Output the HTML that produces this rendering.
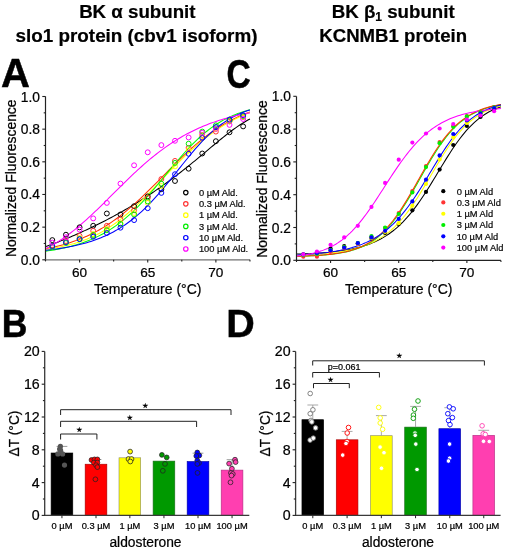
<!DOCTYPE html>
<html><head><meta charset="utf-8"><title>BK aldosterone figure</title>
<style>
html,body{margin:0;padding:0;background:#fff;}
body{width:506px;height:550px;overflow:hidden;}
svg{display:block;}
text{stroke:#000;stroke-width:0.22px;}
text.nb{stroke-width:0.5px;}
text.st{stroke-width:0.25px;}
</style></head><body>
<svg width="506" height="550" viewBox="0 0 506 550" font-family="'Liberation Sans', Arial, sans-serif" fill="#000">
<rect width="506" height="550" fill="#fff"/>
<text x="137.3" y="18.1" font-size="18.7" font-weight="bold" text-anchor="middle">BK α subunit</text>
<text x="136.5" y="42" font-size="18.85" font-weight="bold" text-anchor="middle">slo1 protein (cbv1 isoform)</text>
<text x="393.2" y="18.1" font-size="18.7" font-weight="bold" text-anchor="middle">BK β<tspan font-size="12" dy="3">1</tspan><tspan dy="-3"> subunit</tspan></text>
<text x="393.2" y="41.6" font-size="18.6" font-weight="bold" text-anchor="middle">KCNMB1 protein</text>
<text x="0.9" y="87.3" font-size="40" font-weight="bold" class="nb">A</text>
<text transform="translate(226.4,87.6) scale(0.85,1.04)" font-size="39.5" font-weight="bold" class="nb">C</text>
<text transform="translate(1.8,337.2) scale(0.9,1)" font-size="39.5" font-weight="bold" class="nb">B</text>
<text x="226.2" y="336.9" font-size="39.5" font-weight="bold" class="nb">D</text>
<path d="M45.50 96.4 V260.60" fill="none" stroke="#222" stroke-width="1.2"/>
<path d="M44.90 259.80 H249.95" fill="none" stroke="#707070" stroke-width="1.3"/>
<line x1="42.30" y1="259.80" x2="45.50" y2="259.80" stroke="#222" stroke-width="1.1"/>
<text x="39.90" y="264.80" font-size="13.8" text-anchor="end">0.0</text>
<line x1="43.70" y1="243.47" x2="45.50" y2="243.47" stroke="#222" stroke-width="1.1"/>
<line x1="42.30" y1="227.14" x2="45.50" y2="227.14" stroke="#222" stroke-width="1.1"/>
<text x="39.90" y="232.14" font-size="13.8" text-anchor="end">0.2</text>
<line x1="43.70" y1="210.81" x2="45.50" y2="210.81" stroke="#222" stroke-width="1.1"/>
<line x1="42.30" y1="194.48" x2="45.50" y2="194.48" stroke="#222" stroke-width="1.1"/>
<text x="39.90" y="199.48" font-size="13.8" text-anchor="end">0.4</text>
<line x1="43.70" y1="178.15" x2="45.50" y2="178.15" stroke="#222" stroke-width="1.1"/>
<line x1="42.30" y1="161.82" x2="45.50" y2="161.82" stroke="#222" stroke-width="1.1"/>
<text x="39.90" y="166.82" font-size="13.8" text-anchor="end">0.6</text>
<line x1="43.70" y1="145.49" x2="45.50" y2="145.49" stroke="#222" stroke-width="1.1"/>
<line x1="42.30" y1="129.16" x2="45.50" y2="129.16" stroke="#222" stroke-width="1.1"/>
<text x="39.90" y="134.16" font-size="13.8" text-anchor="end">0.8</text>
<line x1="43.70" y1="112.83" x2="45.50" y2="112.83" stroke="#222" stroke-width="1.1"/>
<line x1="42.30" y1="96.50" x2="45.50" y2="96.50" stroke="#222" stroke-width="1.1"/>
<text x="39.90" y="101.50" font-size="13.8" text-anchor="end">1.0</text>
<line x1="45.50" y1="259.80" x2="45.50" y2="261.40" stroke="#222" stroke-width="1.1"/>
<line x1="79.58" y1="259.80" x2="79.58" y2="262.40" stroke="#222" stroke-width="1.1"/>
<text x="79.58" y="277.2" font-size="13.6" text-anchor="middle">60</text>
<line x1="113.65" y1="259.80" x2="113.65" y2="261.40" stroke="#222" stroke-width="1.1"/>
<line x1="147.73" y1="259.80" x2="147.73" y2="262.40" stroke="#222" stroke-width="1.1"/>
<text x="147.73" y="277.2" font-size="13.6" text-anchor="middle">65</text>
<line x1="181.80" y1="259.80" x2="181.80" y2="261.40" stroke="#222" stroke-width="1.1"/>
<line x1="215.88" y1="259.80" x2="215.88" y2="262.40" stroke="#222" stroke-width="1.1"/>
<text x="215.88" y="277.2" font-size="13.6" text-anchor="middle">70</text>
<line x1="249.95" y1="259.80" x2="249.95" y2="261.40" stroke="#222" stroke-width="1.1"/>
<text x="147.73" y="293.8" font-size="14" text-anchor="middle">Temperature (°C)</text>
<text transform="translate(16.30,178.2) rotate(-90)" font-size="13.9" text-anchor="middle">Normalized Fluorescence</text>
<polyline points="46.00,246.59 48.04,245.84 50.08,245.07 52.12,244.30 54.16,243.52 56.20,242.73 58.24,241.93 60.28,241.12 62.32,240.30 64.36,239.47 66.40,238.63 68.43,237.78 70.47,236.92 72.51,236.05 74.55,235.18 76.59,234.29 78.63,233.39 80.67,232.48 82.71,231.56 84.75,230.63 86.79,229.68 88.83,228.73 90.87,227.76 92.91,226.79 94.95,225.80 96.99,224.80 99.03,223.79 101.07,222.77 103.11,221.73 105.15,220.69 107.19,219.63 109.22,218.56 111.26,217.47 113.30,216.38 115.34,215.27 117.38,214.14 119.42,213.01 121.46,211.86 123.50,210.70 125.54,209.52 127.58,208.33 129.62,207.13 131.66,205.91 133.70,204.68 135.74,203.44 137.78,202.18 139.82,200.90 141.86,199.61 143.90,198.31 145.94,196.99 147.97,195.66 150.01,194.31 152.05,192.94 154.09,191.56 156.13,190.17 158.17,188.76 160.21,187.33 162.25,185.89 164.29,184.43 166.33,182.96 168.37,181.47 170.41,179.97 172.45,178.45 174.49,176.92 176.53,175.37 178.57,173.80 180.61,172.22 182.65,170.63 184.69,169.02 186.73,167.40 188.77,165.77 190.80,164.12 192.84,162.46 194.88,160.79 196.92,159.11 198.96,157.43 201.00,155.73 203.04,154.03 205.08,152.32 207.12,150.61 209.16,148.90 211.20,147.19 213.24,145.49 215.28,143.79 217.32,142.10 219.36,140.42 221.40,138.75 223.44,137.10 225.48,135.48 227.52,133.88 229.56,132.31 231.59,130.77 233.63,129.27 235.67,127.81 237.71,126.39 239.75,125.02 241.79,123.70 243.83,122.43 245.87,121.22 247.91,120.06 249.95,118.96" fill="none" stroke="#000000" stroke-width="1.05"/>
<polyline points="46.00,248.75 48.04,248.35 50.08,247.93 52.12,247.49 54.16,247.03 56.20,246.55 58.24,246.04 60.28,245.51 62.32,244.96 64.36,244.39 66.40,243.79 68.43,243.16 70.47,242.50 72.51,241.82 74.55,241.11 76.59,240.37 78.63,239.59 80.67,238.79 82.71,237.95 84.75,237.08 86.79,236.17 88.83,235.23 90.87,234.25 92.91,233.24 94.95,232.19 96.99,231.10 99.03,229.97 101.07,228.80 103.11,227.59 105.15,226.34 107.19,225.05 109.22,223.72 111.26,222.35 113.30,220.94 115.34,219.49 117.38,217.99 119.42,216.46 121.46,214.89 123.50,213.27 125.54,211.62 127.58,209.93 129.62,208.20 131.66,206.44 133.70,204.64 135.74,202.81 137.78,200.95 139.82,199.06 141.86,197.14 143.90,195.20 145.94,193.23 147.97,191.24 150.01,189.23 152.05,187.21 154.09,185.17 156.13,183.12 158.17,181.06 160.21,178.99 162.25,176.92 164.29,174.85 166.33,172.78 168.37,170.71 170.41,168.65 172.45,166.61 174.49,164.57 176.53,162.55 178.57,160.55 180.61,158.57 182.65,156.61 184.69,154.67 186.73,152.77 188.77,150.89 190.80,149.04 192.84,147.22 194.88,145.44 196.92,143.69 198.96,141.98 201.00,140.30 203.04,138.67 205.08,137.07 207.12,135.51 209.16,134.00 211.20,132.52 213.24,131.09 215.28,129.69 217.32,128.34 219.36,127.03 221.40,125.76 223.44,124.53 225.48,123.34 227.52,122.19 229.56,121.08 231.59,120.01 233.63,118.97 235.67,117.98 237.71,117.02 239.75,116.10 241.79,115.21 243.83,114.35 245.87,113.53 247.91,112.75 249.95,111.99" fill="none" stroke="#ff3300" stroke-width="1.05"/>
<polyline points="46.00,249.21 48.04,248.94 50.08,248.65 52.12,248.35 54.16,248.03 56.20,247.68 58.24,247.32 60.28,246.93 62.32,246.52 64.36,246.08 66.40,245.61 68.43,245.12 70.47,244.59 72.51,244.04 74.55,243.45 76.59,242.84 78.63,242.18 80.67,241.49 82.71,240.77 84.75,240.00 86.79,239.20 88.83,238.35 90.87,237.46 92.91,236.53 94.95,235.55 96.99,234.53 99.03,233.47 101.07,232.35 103.11,231.19 105.15,229.98 107.19,228.72 109.22,227.42 111.26,226.06 113.30,224.66 115.34,223.20 117.38,221.70 119.42,220.15 121.46,218.56 123.50,216.91 125.54,215.23 127.58,213.49 129.62,211.72 131.66,209.90 133.70,208.05 135.74,206.16 137.78,204.23 139.82,202.27 141.86,200.28 143.90,198.26 145.94,196.21 147.97,194.15 150.01,192.06 152.05,189.96 154.09,187.84 156.13,185.71 158.17,183.58 160.21,181.44 162.25,179.29 164.29,177.15 166.33,175.01 168.37,172.88 170.41,170.76 172.45,168.65 174.49,166.56 176.53,164.49 178.57,162.43 180.61,160.40 182.65,158.39 184.69,156.41 186.73,154.46 188.77,152.54 190.80,150.65 192.84,148.80 194.88,146.98 196.92,145.19 198.96,143.45 201.00,141.74 203.04,140.07 205.08,138.44 207.12,136.85 209.16,135.30 211.20,133.79 213.24,132.32 215.28,130.90 217.32,129.51 219.36,128.16 221.40,126.86 223.44,125.59 225.48,124.37 227.52,123.18 229.56,122.03 231.59,120.92 233.63,119.84 235.67,118.81 237.71,117.81 239.75,116.84 241.79,115.91 243.83,115.01 245.87,114.15 247.91,113.32 249.95,112.51" fill="none" stroke="#ffff00" stroke-width="1.05"/>
<polyline points="46.00,251.13 48.04,250.84 50.08,250.53 52.12,250.21 54.16,249.87 56.20,249.51 58.24,249.13 60.28,248.74 62.32,248.32 64.36,247.88 66.40,247.42 68.43,246.93 70.47,246.42 72.51,245.88 74.55,245.31 76.59,244.72 78.63,244.09 80.67,243.44 82.71,242.75 84.75,242.02 86.79,241.26 88.83,240.47 90.87,239.63 92.91,238.76 94.95,237.84 96.99,236.88 99.03,235.88 101.07,234.83 103.11,233.73 105.15,232.58 107.19,231.38 109.22,230.14 111.26,228.83 113.30,227.48 115.34,226.07 117.38,224.60 119.42,223.08 121.46,221.50 123.50,219.86 125.54,218.17 127.58,216.42 129.62,214.60 131.66,212.74 133.70,210.81 135.74,208.83 137.78,206.80 139.82,204.71 141.86,202.57 143.90,200.39 145.94,198.15 147.97,195.88 150.01,193.57 152.05,191.22 154.09,188.84 156.13,186.43 158.17,183.99 160.21,181.54 162.25,179.08 164.29,176.60 166.33,174.13 168.37,171.65 170.41,169.18 172.45,166.73 174.49,164.29 176.53,161.87 178.57,159.48 180.61,157.12 182.65,154.80 184.69,152.52 186.73,150.29 188.77,148.10 190.80,145.97 192.84,143.89 194.88,141.87 196.92,139.91 198.96,138.00 201.00,136.16 203.04,134.39 205.08,132.68 207.12,131.03 209.16,129.45 211.20,127.93 213.24,126.48 215.28,125.09 217.32,123.76 219.36,122.50 221.40,121.29 223.44,120.15 225.48,119.06 227.52,118.02 229.56,117.04 231.59,116.11 233.63,115.23 235.67,114.40 237.71,113.61 239.75,112.87 241.79,112.17 243.83,111.51 245.87,110.88 247.91,110.30 249.95,109.75" fill="none" stroke="#00ff00" stroke-width="1.05"/>
<polyline points="46.00,250.22 48.04,249.99 50.08,249.75 52.12,249.50 54.16,249.24 56.20,248.96 58.24,248.67 60.28,248.37 62.32,248.04 64.36,247.71 66.40,247.35 68.43,246.98 70.47,246.58 72.51,246.17 74.55,245.74 76.59,245.28 78.63,244.80 80.67,244.30 82.71,243.77 84.75,243.22 86.79,242.63 88.83,242.02 90.87,241.38 92.91,240.71 94.95,240.00 96.99,239.26 99.03,238.49 101.07,237.67 103.11,236.82 105.15,235.93 107.19,235.00 109.22,234.02 111.26,233.00 113.30,231.93 115.34,230.81 117.38,229.65 119.42,228.43 121.46,227.16 123.50,225.84 125.54,224.46 127.58,223.02 129.62,221.53 131.66,219.97 133.70,218.36 135.74,216.69 137.78,214.96 139.82,213.16 141.86,211.31 143.90,209.39 145.94,207.41 147.97,205.38 150.01,203.28 152.05,201.13 154.09,198.93 156.13,196.67 158.17,194.36 160.21,192.00 162.25,189.61 164.29,187.17 166.33,184.69 168.37,182.19 170.41,179.66 172.45,177.11 174.49,174.55 176.53,171.98 178.57,169.41 180.61,166.83 182.65,164.27 184.69,161.73 186.73,159.21 188.77,156.71 190.80,154.25 192.84,151.83 194.88,149.45 196.92,147.13 198.96,144.85 201.00,142.64 203.04,140.49 205.08,138.40 207.12,136.38 209.16,134.43 211.20,132.55 213.24,130.75 215.28,129.02 217.32,127.36 219.36,125.77 221.40,124.26 223.44,122.82 225.48,121.45 227.52,120.15 229.56,118.92 231.59,117.76 233.63,116.66 235.67,115.62 237.71,114.64 239.75,113.72 241.79,112.85 243.83,112.04 245.87,111.28 247.91,110.56 249.95,109.89" fill="none" stroke="#0000ff" stroke-width="1.05"/>
<polyline points="46.00,248.59 48.04,247.54 50.08,246.44 52.12,245.30 54.16,244.11 56.20,242.88 58.24,241.61 60.28,240.29 62.32,238.92 64.36,237.51 66.40,236.06 68.43,234.56 70.47,233.02 72.51,231.44 74.55,229.82 76.59,228.16 78.63,226.46 80.67,224.73 82.71,222.96 84.75,221.16 86.79,219.33 88.83,217.46 90.87,215.57 92.91,213.66 94.95,211.72 96.99,209.76 99.03,207.79 101.07,205.79 103.11,203.79 105.15,201.77 107.19,199.75 109.22,197.71 111.26,195.68 113.30,193.64 115.34,191.61 117.38,189.58 119.42,187.55 121.46,185.53 123.50,183.52 125.54,181.53 127.58,179.55 129.62,177.58 131.66,175.64 133.70,173.71 135.74,171.81 137.78,169.93 139.82,168.07 141.86,166.24 143.90,164.44 145.94,162.66 147.97,160.92 150.01,159.20 152.05,157.52 154.09,155.87 156.13,154.25 158.17,152.66 160.21,151.11 162.25,149.59 164.29,148.11 166.33,146.66 168.37,145.24 170.41,143.86 172.45,142.52 174.49,141.21 176.53,139.93 178.57,138.69 180.61,137.48 182.65,136.30 184.69,135.16 186.73,134.05 188.77,132.97 190.80,131.93 192.84,130.91 194.88,129.93 196.92,128.98 198.96,128.05 201.00,127.16 203.04,126.30 205.08,125.46 207.12,124.65 209.16,123.86 211.20,123.11 213.24,122.37 215.28,121.67 217.32,120.98 219.36,120.32 221.40,119.69 223.44,119.07 225.48,118.48 227.52,117.91 229.56,117.36 231.59,116.82 233.63,116.31 235.67,115.82 237.71,115.34 239.75,114.88 241.79,114.44 243.83,114.01 245.87,113.60 247.91,113.21 249.95,112.83" fill="none" stroke="#ff00ff" stroke-width="1.05"/>
<circle cx="185.8" cy="192.60" r="2.2" fill="none" stroke="#000000" stroke-width="1.2"/>
<text x="198.9" y="195.90" font-size="9.3" fill="#111">0 µM Ald.</text>
<circle cx="185.8" cy="203.87" r="2.2" fill="none" stroke="#ff3333" stroke-width="1.2"/>
<text x="198.9" y="207.17" font-size="9.3" fill="#111">0.3 µM Ald.</text>
<circle cx="185.8" cy="215.14" r="2.2" fill="none" stroke="#ffff00" stroke-width="1.2"/>
<text x="198.9" y="218.44" font-size="9.3" fill="#111">1 µM Ald.</text>
<circle cx="185.8" cy="226.41" r="2.2" fill="none" stroke="#00ee00" stroke-width="1.2"/>
<text x="198.9" y="229.71" font-size="9.3" fill="#111">3 µM Ald.</text>
<circle cx="185.8" cy="237.68" r="2.2" fill="none" stroke="#0000ff" stroke-width="1.2"/>
<text x="198.9" y="240.98" font-size="9.3" fill="#111">10 µM Ald.</text>
<circle cx="185.8" cy="248.95" r="2.2" fill="none" stroke="#ff00ff" stroke-width="1.2"/>
<text x="198.9" y="252.25" font-size="9.3" fill="#111">100 µM Ald.</text>
<path d="M296.50 96.4 V261.20" fill="none" stroke="#222" stroke-width="1.2"/>
<path d="M295.90 260.40 H500.95" fill="none" stroke="#222" stroke-width="1.3"/>
<line x1="293.30" y1="260.30" x2="296.50" y2="260.30" stroke="#222" stroke-width="1.1"/>
<text x="290.90" y="265.30" font-size="13.8" text-anchor="end">0.0</text>
<line x1="294.70" y1="243.90" x2="296.50" y2="243.90" stroke="#222" stroke-width="1.1"/>
<line x1="293.30" y1="227.50" x2="296.50" y2="227.50" stroke="#222" stroke-width="1.1"/>
<text x="290.90" y="232.50" font-size="13.8" text-anchor="end">0.2</text>
<line x1="294.70" y1="211.10" x2="296.50" y2="211.10" stroke="#222" stroke-width="1.1"/>
<line x1="293.30" y1="194.70" x2="296.50" y2="194.70" stroke="#222" stroke-width="1.1"/>
<text x="290.90" y="199.70" font-size="13.8" text-anchor="end">0.4</text>
<line x1="294.70" y1="178.30" x2="296.50" y2="178.30" stroke="#222" stroke-width="1.1"/>
<line x1="293.30" y1="161.90" x2="296.50" y2="161.90" stroke="#222" stroke-width="1.1"/>
<text x="290.90" y="166.90" font-size="13.8" text-anchor="end">0.6</text>
<line x1="294.70" y1="145.50" x2="296.50" y2="145.50" stroke="#222" stroke-width="1.1"/>
<line x1="293.30" y1="129.10" x2="296.50" y2="129.10" stroke="#222" stroke-width="1.1"/>
<text x="290.90" y="134.10" font-size="13.8" text-anchor="end">0.8</text>
<line x1="294.70" y1="112.70" x2="296.50" y2="112.70" stroke="#222" stroke-width="1.1"/>
<line x1="293.30" y1="96.30" x2="296.50" y2="96.30" stroke="#222" stroke-width="1.1"/>
<text x="290.90" y="101.30" font-size="13.8" text-anchor="end">1.0</text>
<line x1="296.50" y1="260.40" x2="296.50" y2="262.00" stroke="#222" stroke-width="1.1"/>
<line x1="330.57" y1="260.40" x2="330.57" y2="263.00" stroke="#222" stroke-width="1.1"/>
<text x="330.57" y="277.2" font-size="13.6" text-anchor="middle">60</text>
<line x1="364.65" y1="260.40" x2="364.65" y2="262.00" stroke="#222" stroke-width="1.1"/>
<line x1="398.73" y1="260.40" x2="398.73" y2="263.00" stroke="#222" stroke-width="1.1"/>
<text x="398.73" y="277.2" font-size="13.6" text-anchor="middle">65</text>
<line x1="432.80" y1="260.40" x2="432.80" y2="262.00" stroke="#222" stroke-width="1.1"/>
<line x1="466.88" y1="260.40" x2="466.88" y2="263.00" stroke="#222" stroke-width="1.1"/>
<text x="466.88" y="277.2" font-size="13.6" text-anchor="middle">70</text>
<line x1="500.95" y1="260.40" x2="500.95" y2="262.00" stroke="#222" stroke-width="1.1"/>
<text x="398.73" y="293.8" font-size="14" text-anchor="middle">Temperature (°C)</text>
<text transform="translate(267.30,179.1) rotate(-90)" font-size="13.9" text-anchor="middle">Normalized Fluorescence</text>
<polyline points="297.00,254.11 299.04,254.04 301.08,253.98 303.12,253.90 305.16,253.82 307.20,253.74 309.24,253.65 311.28,253.55 313.32,253.44 315.36,253.33 317.39,253.20 319.43,253.07 321.47,252.93 323.51,252.78 325.55,252.61 327.59,252.44 329.63,252.25 331.67,252.05 333.71,251.83 335.75,251.60 337.79,251.35 339.83,251.08 341.87,250.79 343.91,250.48 345.95,250.14 347.99,249.79 350.03,249.40 352.07,248.99 354.11,248.55 356.15,248.08 358.19,247.57 360.22,247.02 362.26,246.44 364.30,245.82 366.34,245.15 368.38,244.43 370.42,243.67 372.46,242.85 374.50,241.97 376.54,241.04 378.58,240.04 380.62,238.98 382.66,237.84 384.70,236.63 386.74,235.35 388.78,233.98 390.82,232.52 392.86,230.98 394.90,229.35 396.94,227.62 398.98,225.79 401.01,223.86 403.05,221.83 405.09,219.69 407.13,217.45 409.17,215.09 411.21,212.64 413.25,210.07 415.29,207.40 417.33,204.63 419.37,201.77 421.41,198.81 423.45,195.76 425.49,192.64 427.53,189.44 429.57,186.19 431.61,182.88 433.65,179.54 435.69,176.17 437.73,172.78 439.77,169.40 441.80,166.02 443.84,162.68 445.88,159.37 447.92,156.11 449.96,152.91 452.00,149.79 454.04,146.76 456.08,143.81 458.12,140.97 460.16,138.24 462.20,135.61 464.24,133.11 466.28,130.72 468.32,128.45 470.36,126.31 472.40,124.28 474.44,122.37 476.48,120.58 478.52,118.90 480.56,117.33 482.59,115.87 484.63,114.51 486.67,113.24 488.71,112.07 490.75,110.98 492.79,109.98 494.83,109.05 496.87,108.19 498.91,107.40 500.95,106.68" fill="none" stroke="#000000" stroke-width="1.05"/>
<polyline points="297.00,254.83 299.04,254.77 301.08,254.70 303.12,254.63 305.16,254.55 307.20,254.47 309.24,254.38 311.28,254.28 313.32,254.18 315.36,254.06 317.39,253.94 319.43,253.81 321.47,253.66 323.51,253.51 325.55,253.34 327.59,253.16 329.63,252.96 331.67,252.75 333.71,252.52 335.75,252.27 337.79,252.00 339.83,251.72 341.87,251.40 343.91,251.07 345.95,250.71 347.99,250.31 350.03,249.89 352.07,249.44 354.11,248.94 356.15,248.42 358.19,247.85 360.22,247.23 362.26,246.57 364.30,245.86 366.34,245.10 368.38,244.27 370.42,243.39 372.46,242.44 374.50,241.43 376.54,240.34 378.58,239.17 380.62,237.93 382.66,236.60 384.70,235.17 386.74,233.66 388.78,232.05 390.82,230.33 392.86,228.51 394.90,226.58 396.94,224.54 398.98,222.39 401.01,220.12 403.05,217.73 405.09,215.23 407.13,212.61 409.17,209.88 411.21,207.04 413.25,204.10 415.29,201.05 417.33,197.92 419.37,194.70 421.41,191.40 423.45,188.04 425.49,184.62 427.53,181.17 429.57,177.69 431.61,174.20 433.65,170.71 435.69,167.24 437.73,163.79 439.77,160.40 441.80,157.06 443.84,153.79 445.88,150.61 447.92,147.51 449.96,144.52 452.00,141.64 454.04,138.88 456.08,136.23 458.12,133.71 460.16,131.31 462.20,129.05 464.24,126.90 466.28,124.89 468.32,122.99 470.36,121.22 472.40,119.56 474.44,118.01 476.48,116.57 478.52,115.24 480.56,114.00 482.59,112.85 484.63,111.79 486.67,110.81 488.71,109.91 490.75,109.08 492.79,108.32 494.83,107.62 496.87,106.98 498.91,106.39 500.95,105.85" fill="none" stroke="#ffff00" stroke-width="1.05"/>
<polyline points="297.00,256.28 299.04,256.23 301.08,256.17 303.12,256.11 305.16,256.05 307.20,255.97 309.24,255.89 311.28,255.80 313.32,255.70 315.36,255.60 317.39,255.48 319.43,255.35 321.47,255.21 323.51,255.05 325.55,254.88 327.59,254.69 329.63,254.48 331.67,254.25 333.71,254.00 335.75,253.73 337.79,253.43 339.83,253.10 341.87,252.74 343.91,252.34 345.95,251.91 347.99,251.44 350.03,250.92 352.07,250.35 354.11,249.74 356.15,249.07 358.19,248.33 360.22,247.54 362.26,246.67 364.30,245.73 366.34,244.71 368.38,243.60 370.42,242.40 372.46,241.11 374.50,239.72 376.54,238.22 378.58,236.61 380.62,234.88 382.66,233.03 384.70,231.06 386.74,228.96 388.78,226.73 390.82,224.37 392.86,221.88 394.90,219.26 396.94,216.51 398.98,213.64 401.01,210.64 403.05,207.53 405.09,204.32 407.13,201.00 409.17,197.61 411.21,194.13 413.25,190.60 415.29,187.02 417.33,183.41 419.37,179.78 421.41,176.15 423.45,172.53 425.49,168.94 427.53,165.40 429.57,161.92 431.61,158.51 433.65,155.18 435.69,151.94 437.73,148.81 439.77,145.79 441.80,142.89 443.84,140.11 445.88,137.45 447.92,134.93 449.96,132.53 452.00,130.26 454.04,128.12 456.08,126.10 458.12,124.20 460.16,122.42 462.20,120.76 464.24,119.21 466.28,117.76 468.32,116.42 470.36,115.16 472.40,114.00 474.44,112.93 476.48,111.93 478.52,111.01 480.56,110.17 482.59,109.38 484.63,108.66 486.67,108.00 488.71,107.39 490.75,106.82 492.79,106.31 494.83,105.83 496.87,105.40 498.91,105.00 500.95,104.63" fill="none" stroke="#00ff00" stroke-width="1.05"/>
<polyline points="297.00,256.26 299.04,256.20 301.08,256.15 303.12,256.08 305.16,256.01 307.20,255.94 309.24,255.85 311.28,255.76 313.32,255.66 315.36,255.55 317.39,255.42 319.43,255.29 321.47,255.14 323.51,254.98 325.55,254.80 327.59,254.60 329.63,254.38 331.67,254.15 333.71,253.89 335.75,253.60 337.79,253.29 339.83,252.94 341.87,252.57 343.91,252.16 345.95,251.71 347.99,251.21 350.03,250.68 352.07,250.09 354.11,249.45 356.15,248.75 358.19,247.99 360.22,247.16 362.26,246.26 364.30,245.29 366.34,244.23 368.38,243.08 370.42,241.84 372.46,240.51 374.50,239.07 376.54,237.52 378.58,235.86 380.62,234.08 382.66,232.18 384.70,230.15 386.74,227.99 388.78,225.71 390.82,223.29 392.86,220.74 394.90,218.06 396.94,215.26 398.98,212.33 401.01,209.28 403.05,206.13 405.09,202.87 407.13,199.51 409.17,196.08 411.21,192.58 413.25,189.02 415.29,185.43 417.33,181.80 419.37,178.17 421.41,174.55 423.45,170.94 425.49,167.37 427.53,163.86 429.57,160.40 431.61,157.03 433.65,153.74 435.69,150.55 437.73,147.47 439.77,144.50 441.80,141.65 443.84,138.92 445.88,136.32 447.92,133.85 449.96,131.51 452.00,129.30 454.04,127.21 456.08,125.25 458.12,123.40 460.16,121.68 462.20,120.06 464.24,118.56 466.28,117.16 468.32,115.85 470.36,114.64 472.40,113.52 474.44,112.48 476.48,111.52 478.52,110.63 480.56,109.81 482.59,109.06 484.63,108.36 486.67,107.72 488.71,107.13 490.75,106.59 492.79,106.09 494.83,105.64 496.87,105.22 498.91,104.83 500.95,104.48" fill="none" stroke="#ff3300" stroke-width="1.05"/>
<polyline points="297.00,254.90 299.04,254.80 301.08,254.69 303.12,254.58 305.16,254.46 307.20,254.33 309.24,254.19 311.28,254.05 313.32,253.89 315.36,253.72 317.39,253.54 319.43,253.34 321.47,253.13 323.51,252.91 325.55,252.67 327.59,252.42 329.63,252.15 331.67,251.86 333.71,251.55 335.75,251.21 337.79,250.86 339.83,250.48 341.87,250.07 343.91,249.63 345.95,249.17 347.99,248.67 350.03,248.14 352.07,247.58 354.11,246.97 356.15,246.33 358.19,245.64 360.22,244.90 362.26,244.12 364.30,243.28 366.34,242.39 368.38,241.44 370.42,240.43 372.46,239.36 374.50,238.21 376.54,237.00 378.58,235.71 380.62,234.34 382.66,232.89 384.70,231.35 386.74,229.72 388.78,228.00 390.82,226.19 392.86,224.28 394.90,222.26 396.94,220.15 398.98,217.93 401.01,215.60 403.05,213.17 405.09,210.64 407.13,208.00 409.17,205.26 411.21,202.42 413.25,199.49 415.29,196.47 417.33,193.37 419.37,190.19 421.41,186.95 423.45,183.66 425.49,180.32 427.53,176.96 429.57,173.57 431.61,170.18 433.65,166.80 435.69,163.43 437.73,160.11 439.77,156.83 441.80,153.61 443.84,150.46 445.88,147.40 447.92,144.43 449.96,141.56 452.00,138.80 454.04,136.16 456.08,133.63 458.12,131.23 460.16,128.95 462.20,126.79 464.24,124.76 466.28,122.85 468.32,121.05 470.36,119.38 472.40,117.82 474.44,116.36 476.48,115.01 478.52,113.76 480.56,112.61 482.59,111.54 484.63,110.55 486.67,109.65 488.71,108.81 490.75,108.05 492.79,107.35 494.83,106.70 496.87,106.11 498.91,105.58 500.95,105.08" fill="none" stroke="#0000ff" stroke-width="1.05"/>
<polyline points="297.00,255.97 299.04,255.73 301.08,255.47 303.12,255.18 305.16,254.86 307.20,254.51 309.24,254.12 311.28,253.70 313.32,253.23 315.36,252.72 317.39,252.15 319.43,251.54 321.47,250.87 323.51,250.13 325.55,249.34 327.59,248.47 329.63,247.52 331.67,246.50 333.71,245.39 335.75,244.20 337.79,242.91 339.83,241.53 341.87,240.05 343.91,238.46 345.95,236.77 347.99,234.98 350.03,233.07 352.07,231.05 354.11,228.92 356.15,226.68 358.19,224.34 360.22,221.88 362.26,219.33 364.30,216.68 366.34,213.94 368.38,211.11 370.42,208.21 372.46,205.24 374.50,202.20 376.54,199.12 378.58,196.00 380.62,192.84 382.66,189.67 384.70,186.49 386.74,183.32 388.78,180.15 390.82,177.02 392.86,173.91 394.90,170.85 396.94,167.84 398.98,164.89 401.01,162.01 403.05,159.20 405.09,156.47 407.13,153.82 409.17,151.26 411.21,148.80 413.25,146.42 415.29,144.14 417.33,141.96 419.37,139.87 421.41,137.87 423.45,135.97 425.49,134.16 427.53,132.45 429.57,130.82 431.61,129.28 433.65,127.83 435.69,126.45 437.73,125.15 439.77,123.93 441.80,122.78 443.84,121.70 445.88,120.69 447.92,119.74 449.96,118.85 452.00,118.01 454.04,117.23 456.08,116.50 458.12,115.81 460.16,115.17 462.20,114.57 464.24,114.02 466.28,113.50 468.32,113.01 470.36,112.56 472.40,112.14 474.44,111.75 476.48,111.38 478.52,111.04 480.56,110.72 482.59,110.43 484.63,110.16 486.67,109.90 488.71,109.67 490.75,109.45 492.79,109.24 494.83,109.05 496.87,108.87 498.91,108.71 500.95,108.56" fill="none" stroke="#ff00ff" stroke-width="1.05"/>
<circle cx="443.3" cy="191.20" r="2.1" fill="#000000"/>
<text x="456.7" y="194.50" font-size="9.3" fill="#111">0 µM Ald</text>
<circle cx="443.3" cy="202.47" r="2.1" fill="#ff3333"/>
<text x="456.7" y="205.77" font-size="9.3" fill="#111">0.3 µM Ald</text>
<circle cx="443.3" cy="213.74" r="2.1" fill="#ffff00"/>
<text x="456.7" y="217.04" font-size="9.3" fill="#111">1 µM Ald</text>
<circle cx="443.3" cy="225.01" r="2.1" fill="#00ee00"/>
<text x="456.7" y="228.31" font-size="9.3" fill="#111">3 µM Ald</text>
<circle cx="443.3" cy="236.28" r="2.1" fill="#0000ff"/>
<text x="456.7" y="239.58" font-size="9.3" fill="#111">10 µM Ald</text>
<circle cx="443.3" cy="247.55" r="2.1" fill="#ff00ff"/>
<text x="456.7" y="250.85" font-size="9.3" fill="#111">100 µM Ald</text>
<circle cx="52.31" cy="240.10" r="2.45" fill="none" stroke="#000000" stroke-width="1.0"/>
<circle cx="65.94" cy="234.70" r="2.45" fill="none" stroke="#000000" stroke-width="1.0"/>
<circle cx="79.58" cy="227.30" r="2.45" fill="none" stroke="#000000" stroke-width="1.0"/>
<circle cx="93.21" cy="225.80" r="2.45" fill="none" stroke="#000000" stroke-width="1.0"/>
<circle cx="106.84" cy="213.50" r="2.45" fill="none" stroke="#000000" stroke-width="1.0"/>
<circle cx="120.47" cy="214.50" r="2.45" fill="none" stroke="#000000" stroke-width="1.0"/>
<circle cx="134.09" cy="206.20" r="2.45" fill="none" stroke="#000000" stroke-width="1.0"/>
<circle cx="147.73" cy="196.40" r="2.45" fill="none" stroke="#000000" stroke-width="1.0"/>
<circle cx="161.36" cy="189.20" r="2.45" fill="none" stroke="#000000" stroke-width="1.0"/>
<circle cx="174.99" cy="181.00" r="2.45" fill="none" stroke="#000000" stroke-width="1.0"/>
<circle cx="188.62" cy="168.70" r="2.45" fill="none" stroke="#000000" stroke-width="1.0"/>
<circle cx="202.25" cy="153.50" r="2.45" fill="none" stroke="#000000" stroke-width="1.0"/>
<circle cx="215.88" cy="141.20" r="2.45" fill="none" stroke="#000000" stroke-width="1.0"/>
<circle cx="229.51" cy="132.30" r="2.45" fill="none" stroke="#000000" stroke-width="1.0"/>
<circle cx="243.14" cy="126.40" r="2.45" fill="none" stroke="#000000" stroke-width="1.0"/>
<circle cx="52.31" cy="246.00" r="2.45" fill="none" stroke="#ff3333" stroke-width="1.0"/>
<circle cx="65.94" cy="241.00" r="2.45" fill="none" stroke="#ff3333" stroke-width="1.0"/>
<circle cx="79.58" cy="235.90" r="2.45" fill="none" stroke="#ff3333" stroke-width="1.0"/>
<circle cx="93.21" cy="230.80" r="2.45" fill="none" stroke="#ff3333" stroke-width="1.0"/>
<circle cx="106.84" cy="225.80" r="2.45" fill="none" stroke="#ff3333" stroke-width="1.0"/>
<circle cx="120.47" cy="219.30" r="2.45" fill="none" stroke="#ff3333" stroke-width="1.0"/>
<circle cx="134.09" cy="210.30" r="2.45" fill="none" stroke="#ff3333" stroke-width="1.0"/>
<circle cx="147.73" cy="198.00" r="2.45" fill="none" stroke="#ff3333" stroke-width="1.0"/>
<circle cx="161.36" cy="179.00" r="2.45" fill="none" stroke="#ff3333" stroke-width="1.0"/>
<circle cx="174.99" cy="160.90" r="2.45" fill="none" stroke="#ff3333" stroke-width="1.0"/>
<circle cx="188.62" cy="147.90" r="2.45" fill="none" stroke="#ff3333" stroke-width="1.0"/>
<circle cx="202.25" cy="135.00" r="2.45" fill="none" stroke="#ff3333" stroke-width="1.0"/>
<circle cx="215.88" cy="131.60" r="2.45" fill="none" stroke="#ff3333" stroke-width="1.0"/>
<circle cx="229.51" cy="121.50" r="2.45" fill="none" stroke="#ff3333" stroke-width="1.0"/>
<circle cx="243.14" cy="117.00" r="2.45" fill="none" stroke="#ff3333" stroke-width="1.0"/>
<circle cx="52.31" cy="246.50" r="2.45" fill="none" stroke="#ffff00" stroke-width="1.0"/>
<circle cx="65.94" cy="242.00" r="2.45" fill="none" stroke="#ffff00" stroke-width="1.0"/>
<circle cx="79.58" cy="238.00" r="2.45" fill="none" stroke="#ffff00" stroke-width="1.0"/>
<circle cx="93.21" cy="234.00" r="2.45" fill="none" stroke="#ffff00" stroke-width="1.0"/>
<circle cx="106.84" cy="229.00" r="2.45" fill="none" stroke="#ffff00" stroke-width="1.0"/>
<circle cx="120.47" cy="223.20" r="2.45" fill="none" stroke="#ffff00" stroke-width="1.0"/>
<circle cx="134.09" cy="213.00" r="2.45" fill="none" stroke="#ffff00" stroke-width="1.0"/>
<circle cx="147.73" cy="203.00" r="2.45" fill="none" stroke="#ffff00" stroke-width="1.0"/>
<circle cx="161.36" cy="186.00" r="2.45" fill="none" stroke="#ffff00" stroke-width="1.0"/>
<circle cx="174.99" cy="166.40" r="2.45" fill="none" stroke="#ffff00" stroke-width="1.0"/>
<circle cx="188.62" cy="150.30" r="2.45" fill="none" stroke="#ffff00" stroke-width="1.0"/>
<circle cx="202.25" cy="136.00" r="2.45" fill="none" stroke="#ffff00" stroke-width="1.0"/>
<circle cx="215.88" cy="129.00" r="2.45" fill="none" stroke="#ffff00" stroke-width="1.0"/>
<circle cx="229.51" cy="121.00" r="2.45" fill="none" stroke="#ffff00" stroke-width="1.0"/>
<circle cx="243.14" cy="116.50" r="2.45" fill="none" stroke="#ffff00" stroke-width="1.0"/>
<circle cx="52.31" cy="247.00" r="2.45" fill="none" stroke="#00ee00" stroke-width="1.0"/>
<circle cx="65.94" cy="243.00" r="2.45" fill="none" stroke="#00ee00" stroke-width="1.0"/>
<circle cx="79.58" cy="239.00" r="2.45" fill="none" stroke="#00ee00" stroke-width="1.0"/>
<circle cx="93.21" cy="235.00" r="2.45" fill="none" stroke="#00ee00" stroke-width="1.0"/>
<circle cx="106.84" cy="230.20" r="2.45" fill="none" stroke="#00ee00" stroke-width="1.0"/>
<circle cx="120.47" cy="224.00" r="2.45" fill="none" stroke="#00ee00" stroke-width="1.0"/>
<circle cx="134.09" cy="214.50" r="2.45" fill="none" stroke="#00ee00" stroke-width="1.0"/>
<circle cx="147.73" cy="201.40" r="2.45" fill="none" stroke="#00ee00" stroke-width="1.0"/>
<circle cx="161.36" cy="183.70" r="2.45" fill="none" stroke="#00ee00" stroke-width="1.0"/>
<circle cx="174.99" cy="162.90" r="2.45" fill="none" stroke="#00ee00" stroke-width="1.0"/>
<circle cx="188.62" cy="143.70" r="2.45" fill="none" stroke="#00ee00" stroke-width="1.0"/>
<circle cx="202.25" cy="131.60" r="2.45" fill="none" stroke="#00ee00" stroke-width="1.0"/>
<circle cx="215.88" cy="125.30" r="2.45" fill="none" stroke="#00ee00" stroke-width="1.0"/>
<circle cx="229.51" cy="120.50" r="2.45" fill="none" stroke="#00ee00" stroke-width="1.0"/>
<circle cx="243.14" cy="116.00" r="2.45" fill="none" stroke="#00ee00" stroke-width="1.0"/>
<circle cx="52.31" cy="246.10" r="2.45" fill="none" stroke="#0000ff" stroke-width="1.0"/>
<circle cx="65.94" cy="242.10" r="2.45" fill="none" stroke="#0000ff" stroke-width="1.0"/>
<circle cx="79.58" cy="239.20" r="2.45" fill="none" stroke="#0000ff" stroke-width="1.0"/>
<circle cx="93.21" cy="236.70" r="2.45" fill="none" stroke="#0000ff" stroke-width="1.0"/>
<circle cx="106.84" cy="233.00" r="2.45" fill="none" stroke="#0000ff" stroke-width="1.0"/>
<circle cx="120.47" cy="227.70" r="2.45" fill="none" stroke="#0000ff" stroke-width="1.0"/>
<circle cx="134.09" cy="220.10" r="2.45" fill="none" stroke="#0000ff" stroke-width="1.0"/>
<circle cx="147.73" cy="208.20" r="2.45" fill="none" stroke="#0000ff" stroke-width="1.0"/>
<circle cx="161.36" cy="192.90" r="2.45" fill="none" stroke="#0000ff" stroke-width="1.0"/>
<circle cx="174.99" cy="174.20" r="2.45" fill="none" stroke="#0000ff" stroke-width="1.0"/>
<circle cx="188.62" cy="153.80" r="2.45" fill="none" stroke="#0000ff" stroke-width="1.0"/>
<circle cx="202.25" cy="137.80" r="2.45" fill="none" stroke="#0000ff" stroke-width="1.0"/>
<circle cx="215.88" cy="127.10" r="2.45" fill="none" stroke="#0000ff" stroke-width="1.0"/>
<circle cx="229.51" cy="119.70" r="2.45" fill="none" stroke="#0000ff" stroke-width="1.0"/>
<circle cx="243.14" cy="115.30" r="2.45" fill="none" stroke="#0000ff" stroke-width="1.0"/>
<circle cx="52.31" cy="242.60" r="2.45" fill="none" stroke="#ff00ff" stroke-width="1.0"/>
<circle cx="65.94" cy="237.20" r="2.45" fill="none" stroke="#ff00ff" stroke-width="1.0"/>
<circle cx="79.58" cy="229.60" r="2.45" fill="none" stroke="#ff00ff" stroke-width="1.0"/>
<circle cx="93.21" cy="218.40" r="2.45" fill="none" stroke="#ff00ff" stroke-width="1.0"/>
<circle cx="106.84" cy="202.90" r="2.45" fill="none" stroke="#ff00ff" stroke-width="1.0"/>
<circle cx="120.47" cy="183.60" r="2.45" fill="none" stroke="#ff00ff" stroke-width="1.0"/>
<circle cx="134.09" cy="165.30" r="2.45" fill="none" stroke="#ff00ff" stroke-width="1.0"/>
<circle cx="147.73" cy="152.30" r="2.45" fill="none" stroke="#ff00ff" stroke-width="1.0"/>
<circle cx="161.36" cy="145.10" r="2.45" fill="none" stroke="#ff00ff" stroke-width="1.0"/>
<circle cx="174.99" cy="140.80" r="2.45" fill="none" stroke="#ff00ff" stroke-width="1.0"/>
<circle cx="188.62" cy="137.50" r="2.45" fill="none" stroke="#ff00ff" stroke-width="1.0"/>
<circle cx="202.25" cy="132.80" r="2.45" fill="none" stroke="#ff00ff" stroke-width="1.0"/>
<circle cx="215.88" cy="128.90" r="2.45" fill="none" stroke="#ff00ff" stroke-width="1.0"/>
<circle cx="229.51" cy="124.90" r="2.45" fill="none" stroke="#ff00ff" stroke-width="1.0"/>
<circle cx="243.14" cy="119.00" r="2.45" fill="none" stroke="#ff00ff" stroke-width="1.0"/>
<circle cx="303.31" cy="254.30" r="2.1" fill="#000000"/>
<circle cx="316.94" cy="253.00" r="2.1" fill="#000000"/>
<circle cx="330.57" cy="248.60" r="2.1" fill="#000000"/>
<circle cx="344.20" cy="246.20" r="2.1" fill="#000000"/>
<circle cx="357.83" cy="243.40" r="2.1" fill="#000000"/>
<circle cx="371.47" cy="238.50" r="2.1" fill="#000000"/>
<circle cx="385.10" cy="233.00" r="2.1" fill="#000000"/>
<circle cx="398.73" cy="224.00" r="2.1" fill="#000000"/>
<circle cx="412.36" cy="210.30" r="2.1" fill="#000000"/>
<circle cx="425.99" cy="191.90" r="2.1" fill="#000000"/>
<circle cx="439.62" cy="169.60" r="2.1" fill="#000000"/>
<circle cx="453.25" cy="145.00" r="2.1" fill="#000000"/>
<circle cx="466.88" cy="126.00" r="2.1" fill="#000000"/>
<circle cx="480.50" cy="116.90" r="2.1" fill="#000000"/>
<circle cx="494.13" cy="109.60" r="2.1" fill="#000000"/>
<circle cx="303.31" cy="256.70" r="2.1" fill="#ff3333"/>
<circle cx="316.94" cy="256.70" r="2.1" fill="#ff3333"/>
<circle cx="330.57" cy="252.00" r="2.1" fill="#ff3333"/>
<circle cx="344.20" cy="248.00" r="2.1" fill="#ff3333"/>
<circle cx="357.83" cy="244.00" r="2.1" fill="#ff3333"/>
<circle cx="371.47" cy="237.00" r="2.1" fill="#ff3333"/>
<circle cx="385.10" cy="228.00" r="2.1" fill="#ff3333"/>
<circle cx="398.73" cy="213.00" r="2.1" fill="#ff3333"/>
<circle cx="412.36" cy="191.00" r="2.1" fill="#ff3333"/>
<circle cx="425.99" cy="166.00" r="2.1" fill="#ff3333"/>
<circle cx="439.62" cy="142.00" r="2.1" fill="#ff3333"/>
<circle cx="453.25" cy="126.00" r="2.1" fill="#ff3333"/>
<circle cx="466.88" cy="116.00" r="2.1" fill="#ff3333"/>
<circle cx="480.50" cy="112.00" r="2.1" fill="#ff3333"/>
<circle cx="494.13" cy="107.00" r="2.1" fill="#ff3333"/>
<circle cx="303.31" cy="255.00" r="2.1" fill="#ffff00"/>
<circle cx="316.94" cy="253.50" r="2.1" fill="#ffff00"/>
<circle cx="330.57" cy="250.00" r="2.1" fill="#ffff00"/>
<circle cx="344.20" cy="247.00" r="2.1" fill="#ffff00"/>
<circle cx="357.83" cy="243.50" r="2.1" fill="#ffff00"/>
<circle cx="371.47" cy="238.00" r="2.1" fill="#ffff00"/>
<circle cx="385.10" cy="232.00" r="2.1" fill="#ffff00"/>
<circle cx="398.73" cy="223.20" r="2.1" fill="#ffff00"/>
<circle cx="412.36" cy="205.80" r="2.1" fill="#ffff00"/>
<circle cx="425.99" cy="184.00" r="2.1" fill="#ffff00"/>
<circle cx="439.62" cy="159.50" r="2.1" fill="#ffff00"/>
<circle cx="453.25" cy="137.40" r="2.1" fill="#ffff00"/>
<circle cx="466.88" cy="122.90" r="2.1" fill="#ffff00"/>
<circle cx="480.50" cy="114.00" r="2.1" fill="#ffff00"/>
<circle cx="494.13" cy="108.00" r="2.1" fill="#ffff00"/>
<circle cx="303.31" cy="255.00" r="2.1" fill="#00ee00"/>
<circle cx="316.94" cy="254.00" r="2.1" fill="#00ee00"/>
<circle cx="330.57" cy="250.00" r="2.1" fill="#00ee00"/>
<circle cx="344.20" cy="247.00" r="2.1" fill="#00ee00"/>
<circle cx="357.83" cy="243.00" r="2.1" fill="#00ee00"/>
<circle cx="371.47" cy="236.20" r="2.1" fill="#00ee00"/>
<circle cx="385.10" cy="227.60" r="2.1" fill="#00ee00"/>
<circle cx="398.73" cy="214.00" r="2.1" fill="#00ee00"/>
<circle cx="412.36" cy="192.40" r="2.1" fill="#00ee00"/>
<circle cx="425.99" cy="167.10" r="2.1" fill="#00ee00"/>
<circle cx="439.62" cy="143.20" r="2.1" fill="#00ee00"/>
<circle cx="453.25" cy="126.80" r="2.1" fill="#00ee00"/>
<circle cx="466.88" cy="116.40" r="2.1" fill="#00ee00"/>
<circle cx="480.50" cy="112.40" r="2.1" fill="#00ee00"/>
<circle cx="494.13" cy="107.40" r="2.1" fill="#00ee00"/>
<circle cx="303.31" cy="254.50" r="2.1" fill="#0000ff"/>
<circle cx="316.94" cy="253.00" r="2.1" fill="#0000ff"/>
<circle cx="330.57" cy="250.30" r="2.1" fill="#0000ff"/>
<circle cx="344.20" cy="247.50" r="2.1" fill="#0000ff"/>
<circle cx="357.83" cy="243.20" r="2.1" fill="#0000ff"/>
<circle cx="371.47" cy="237.40" r="2.1" fill="#0000ff"/>
<circle cx="385.10" cy="230.80" r="2.1" fill="#0000ff"/>
<circle cx="398.73" cy="218.90" r="2.1" fill="#0000ff"/>
<circle cx="412.36" cy="201.40" r="2.1" fill="#0000ff"/>
<circle cx="425.99" cy="179.70" r="2.1" fill="#0000ff"/>
<circle cx="439.62" cy="155.40" r="2.1" fill="#0000ff"/>
<circle cx="453.25" cy="134.00" r="2.1" fill="#0000ff"/>
<circle cx="466.88" cy="120.50" r="2.1" fill="#0000ff"/>
<circle cx="480.50" cy="113.70" r="2.1" fill="#0000ff"/>
<circle cx="494.13" cy="108.00" r="2.1" fill="#0000ff"/>
<circle cx="303.31" cy="254.30" r="2.1" fill="#ff00ff"/>
<circle cx="316.94" cy="251.50" r="2.1" fill="#ff00ff"/>
<circle cx="330.57" cy="244.80" r="2.1" fill="#ff00ff"/>
<circle cx="344.20" cy="237.40" r="2.1" fill="#ff00ff"/>
<circle cx="357.83" cy="225.80" r="2.1" fill="#ff00ff"/>
<circle cx="371.47" cy="206.90" r="2.1" fill="#ff00ff"/>
<circle cx="385.10" cy="182.90" r="2.1" fill="#ff00ff"/>
<circle cx="398.73" cy="159.70" r="2.1" fill="#ff00ff"/>
<circle cx="412.36" cy="142.60" r="2.1" fill="#ff00ff"/>
<circle cx="425.99" cy="133.50" r="2.1" fill="#ff00ff"/>
<circle cx="439.62" cy="128.50" r="2.1" fill="#ff00ff"/>
<circle cx="453.25" cy="124.10" r="2.1" fill="#ff00ff"/>
<circle cx="466.88" cy="119.50" r="2.1" fill="#ff00ff"/>
<circle cx="480.50" cy="115.50" r="2.1" fill="#ff00ff"/>
<circle cx="494.13" cy="111.20" r="2.1" fill="#ff00ff"/>
<rect x="51.10" y="453.00" width="21.7" height="62.40" fill="#000000" stroke="#000000" stroke-width="0.6"/>
<rect x="85.15" y="464.20" width="21.7" height="51.20" fill="#ff0000" stroke="#a00000" stroke-width="0.6"/>
<rect x="119.00" y="457.80" width="21.7" height="57.60" fill="#ffff00" stroke="#8a8a60" stroke-width="0.6"/>
<rect x="153.10" y="461.10" width="21.7" height="54.30" fill="#009900" stroke="#1a6a1a" stroke-width="0.6"/>
<rect x="187.15" y="461.50" width="21.7" height="53.90" fill="#0000ff" stroke="#0000a0" stroke-width="0.6"/>
<rect x="221.20" y="470.10" width="21.7" height="45.30" fill="#ff3fb0" stroke="#b02a80" stroke-width="0.6"/>
<path d="M61.95 453.00 V446.40 M56.55 446.40 H67.35" stroke="#888" stroke-width="0.85" fill="none"/>
<path d="M96.00 464.20 V459.50 M90.60 459.50 H101.40" stroke="#888" stroke-width="0.85" fill="none"/>
<path d="M198.00 461.50 V453.20 M192.60 453.20 H203.40" stroke="#888" stroke-width="0.85" fill="none"/>
<path d="M232.05 470.10 V459.70 M226.65 459.70 H237.45" stroke="#888" stroke-width="0.85" fill="none"/>
<circle cx="60.4" cy="446.3" r="2.6" fill="#555"/>
<circle cx="59.6" cy="449" r="2.6" fill="#555"/>
<circle cx="60.6" cy="450.4" r="2.6" fill="#555"/>
<circle cx="57.9" cy="453.9" r="2.6" fill="#555"/>
<circle cx="62.6" cy="453.9" r="2.6" fill="#555"/>
<circle cx="64.5" cy="465.1" r="2.6" fill="#555"/>
<circle cx="91.5" cy="460" r="2.4" fill="#ff0000" stroke="#222" stroke-width="0.75"/>
<circle cx="94.5" cy="459.4" r="2.4" fill="#ff0000" stroke="#222" stroke-width="0.75"/>
<circle cx="97.4" cy="459.4" r="2.4" fill="#ff0000" stroke="#222" stroke-width="0.75"/>
<circle cx="93.8" cy="462.6" r="2.4" fill="#ff0000" stroke="#222" stroke-width="0.75"/>
<circle cx="97.4" cy="462.6" r="2.4" fill="#ff0000" stroke="#222" stroke-width="0.75"/>
<circle cx="96.1" cy="465.2" r="2.4" fill="#ff0000" stroke="#222" stroke-width="0.75"/>
<circle cx="97.4" cy="467.1" r="2.4" fill="#ff0000" stroke="#222" stroke-width="0.75"/>
<circle cx="95.4" cy="479.3" r="2.4" fill="#ff0000" stroke="#222" stroke-width="0.75"/>
<circle cx="130.1" cy="451.6" r="2.4" fill="#ffff00" stroke="#222" stroke-width="0.75"/>
<circle cx="128.5" cy="459" r="2.4" fill="#ffff00" stroke="#222" stroke-width="0.75"/>
<circle cx="131.5" cy="459" r="2.4" fill="#ffff00" stroke="#222" stroke-width="0.75"/>
<circle cx="130.3" cy="461.5" r="2.4" fill="#ffff00" stroke="#222" stroke-width="0.75"/>
<circle cx="161.9" cy="454.9" r="2.4" fill="#009900" stroke="#222" stroke-width="0.75"/>
<circle cx="166.7" cy="457.4" r="2.4" fill="#009900" stroke="#222" stroke-width="0.75"/>
<circle cx="165" cy="463.9" r="2.4" fill="#009900" stroke="#222" stroke-width="0.75"/>
<circle cx="162.8" cy="470.8" r="2.4" fill="#009900" stroke="#222" stroke-width="0.75"/>
<circle cx="197.3" cy="452.5" r="2.4" fill="#0000ff" stroke="#222" stroke-width="0.75"/>
<circle cx="199.3" cy="455.5" r="2.4" fill="#0000ff" stroke="#222" stroke-width="0.75"/>
<circle cx="196.3" cy="456" r="2.4" fill="#0000ff" stroke="#222" stroke-width="0.75"/>
<circle cx="197.3" cy="460.5" r="2.4" fill="#0000ff" stroke="#222" stroke-width="0.75"/>
<circle cx="199" cy="463" r="2.4" fill="#0000ff" stroke="#222" stroke-width="0.75"/>
<circle cx="197.3" cy="463.9" r="2.4" fill="#0000ff" stroke="#222" stroke-width="0.75"/>
<circle cx="197.5" cy="472.9" r="2.4" fill="#0000ff" stroke="#222" stroke-width="0.75"/>
<circle cx="235" cy="459.7" r="2.4" fill="#ff3fb0" stroke="#222" stroke-width="0.75"/>
<circle cx="235.6" cy="462.1" r="2.4" fill="#ff3fb0" stroke="#222" stroke-width="0.75"/>
<circle cx="229.1" cy="463.6" r="2.4" fill="#ff3fb0" stroke="#222" stroke-width="0.75"/>
<circle cx="231.9" cy="468.7" r="2.4" fill="#ff3fb0" stroke="#222" stroke-width="0.75"/>
<circle cx="230.9" cy="472.9" r="2.4" fill="#ff3fb0" stroke="#222" stroke-width="0.75"/>
<circle cx="232.8" cy="474" r="2.4" fill="#ff3fb0" stroke="#222" stroke-width="0.75"/>
<circle cx="231.5" cy="475.6" r="2.4" fill="#ff3fb0" stroke="#222" stroke-width="0.75"/>
<circle cx="230.5" cy="482.3" r="2.4" fill="#ff3fb0" stroke="#222" stroke-width="0.75"/>
<path d="M44.70 351.4 V515.4 H249.30" fill="none" stroke="#3a3a3a" stroke-width="1.3"/>
<line x1="41.70" y1="515.40" x2="44.70" y2="515.40" stroke="#222" stroke-width="1.1"/>
<text x="39.70" y="520.30" font-size="14.2" text-anchor="end">0</text>
<line x1="42.90" y1="499.00" x2="44.70" y2="499.00" stroke="#222" stroke-width="1.1"/>
<line x1="41.70" y1="482.60" x2="44.70" y2="482.60" stroke="#222" stroke-width="1.1"/>
<text x="39.70" y="487.50" font-size="14.2" text-anchor="end">4</text>
<line x1="42.90" y1="466.20" x2="44.70" y2="466.20" stroke="#222" stroke-width="1.1"/>
<line x1="41.70" y1="449.80" x2="44.70" y2="449.80" stroke="#222" stroke-width="1.1"/>
<text x="39.70" y="454.70" font-size="14.2" text-anchor="end">8</text>
<line x1="42.90" y1="433.40" x2="44.70" y2="433.40" stroke="#222" stroke-width="1.1"/>
<line x1="41.70" y1="417.00" x2="44.70" y2="417.00" stroke="#222" stroke-width="1.1"/>
<text x="39.70" y="421.90" font-size="14.2" text-anchor="end">12</text>
<line x1="42.90" y1="400.60" x2="44.70" y2="400.60" stroke="#222" stroke-width="1.1"/>
<line x1="41.70" y1="384.20" x2="44.70" y2="384.20" stroke="#222" stroke-width="1.1"/>
<text x="39.70" y="389.10" font-size="14.2" text-anchor="end">16</text>
<line x1="42.90" y1="367.80" x2="44.70" y2="367.80" stroke="#222" stroke-width="1.1"/>
<line x1="41.70" y1="351.40" x2="44.70" y2="351.40" stroke="#222" stroke-width="1.1"/>
<text x="39.70" y="356.30" font-size="14.2" text-anchor="end">20</text>
<line x1="61.95" y1="515.4" x2="61.95" y2="518.2" stroke="#222" stroke-width="1"/>
<text x="61.95" y="529" font-size="9.3" text-anchor="middle">0 µM</text>
<line x1="96.00" y1="515.4" x2="96.00" y2="518.2" stroke="#222" stroke-width="1"/>
<text x="96.00" y="529" font-size="9.3" text-anchor="middle">0.3 µM</text>
<line x1="129.85" y1="515.4" x2="129.85" y2="518.2" stroke="#222" stroke-width="1"/>
<text x="129.85" y="529" font-size="9.3" text-anchor="middle">1 µM</text>
<line x1="163.95" y1="515.4" x2="163.95" y2="518.2" stroke="#222" stroke-width="1"/>
<text x="163.95" y="529" font-size="9.3" text-anchor="middle">3 µM</text>
<line x1="198.00" y1="515.4" x2="198.00" y2="518.2" stroke="#222" stroke-width="1"/>
<text x="198.00" y="529" font-size="9.3" text-anchor="middle">10 µM</text>
<line x1="232.05" y1="515.4" x2="232.05" y2="518.2" stroke="#222" stroke-width="1"/>
<text x="232.05" y="529" font-size="9.3" text-anchor="middle">100 µM</text>
<text x="145.50" y="546.5" font-size="13.8" text-anchor="middle">aldosterone</text>
<text transform="translate(18.90,433.5) rotate(-90)" font-size="13.8" text-anchor="middle">ΔT (°C)</text>
<path d="M60.60 415.00 V409.70 H231.00 V415.00" fill="none" stroke="#222" stroke-width="1"/>
<path d="M60.60 427.00 V421.30 H196.60 V427.00" fill="none" stroke="#222" stroke-width="1"/>
<path d="M60.60 439.50 V434.00 H96.90 V439.50" fill="none" stroke="#222" stroke-width="1"/>
<text x="145.40" y="407.60" font-size="6.8" text-anchor="middle" font-family="DejaVu Sans, sans-serif" class="st">★</text>
<text x="129.90" y="420.30" font-size="6.8" text-anchor="middle" font-family="DejaVu Sans, sans-serif" class="st">★</text>
<text x="79.30" y="432.40" font-size="6.8" text-anchor="middle" font-family="DejaVu Sans, sans-serif" class="st">★</text>
<rect x="301.95" y="419.70" width="21.7" height="95.70" fill="#000000" stroke="#000000" stroke-width="0.6"/>
<rect x="336.25" y="439.80" width="21.7" height="75.60" fill="#ff0000" stroke="#a00000" stroke-width="0.6"/>
<rect x="370.50" y="435.70" width="21.7" height="79.70" fill="#ffff00" stroke="#8a8a60" stroke-width="0.6"/>
<rect x="404.70" y="427.10" width="21.7" height="88.30" fill="#009900" stroke="#1a6a1a" stroke-width="0.6"/>
<rect x="438.90" y="428.70" width="21.7" height="86.70" fill="#0000ff" stroke="#0000a0" stroke-width="0.6"/>
<rect x="472.90" y="435.30" width="21.7" height="80.10" fill="#ff3fb0" stroke="#b02a80" stroke-width="0.6"/>
<path d="M312.80 419.70 V405.00 M307.40 405.00 H318.20" stroke="#999" stroke-width="0.85" fill="none"/>
<path d="M347.10 439.80 V431.40 M341.70 431.40 H352.50" stroke="#999" stroke-width="0.85" fill="none"/>
<path d="M381.35 435.70 V415.60 M375.95 415.60 H386.75" stroke="#999" stroke-width="0.85" fill="none"/>
<path d="M415.55 427.10 V406.40 M410.15 406.40 H420.95" stroke="#999" stroke-width="0.85" fill="none"/>
<path d="M449.75 428.70 V407.70 M444.35 407.70 H455.15" stroke="#999" stroke-width="0.85" fill="none"/>
<path d="M483.75 435.30 V430.30 M478.35 430.30 H489.15" stroke="#999" stroke-width="0.85" fill="none"/>
<circle cx="310.2" cy="393.5" r="2.3" fill="#fff" stroke="#777" stroke-width="0.9"/>
<circle cx="312.9" cy="409.8" r="2.3" fill="#fff" stroke="#777" stroke-width="0.9"/>
<circle cx="310.2" cy="413.7" r="2.3" fill="#fff" stroke="#777" stroke-width="0.9"/>
<circle cx="311" cy="420.4" r="2.3" fill="#fff" stroke="#777" stroke-width="0.9"/>
<circle cx="311.8" cy="421.9" r="2.3" fill="#fff" stroke="#777" stroke-width="0.9"/>
<circle cx="315.6" cy="427.9" r="2.3" fill="#fff" stroke="#777" stroke-width="0.9"/>
<circle cx="310.1" cy="440.1" r="2.3" fill="#fff" stroke="#777" stroke-width="0.9"/>
<circle cx="313.3" cy="438.1" r="2.3" fill="#fff" stroke="#777" stroke-width="0.9"/>
<circle cx="348.5" cy="427.5" r="2.3" fill="#fff" stroke="#ff0000" stroke-width="0.9"/>
<circle cx="347.2" cy="433" r="2.3" fill="#fff" stroke="#ff0000" stroke-width="0.9"/>
<circle cx="347" cy="441.5" r="2.3" fill="#fff" stroke="#ff0000" stroke-width="0.9"/>
<circle cx="346" cy="443.5" r="2.3" fill="#fff" stroke="#ff0000" stroke-width="0.9"/>
<circle cx="342.7" cy="455.1" r="2.3" fill="#fff" stroke="#ff0000" stroke-width="0.9"/>
<circle cx="378.7" cy="407.4" r="2.3" fill="#fff" stroke="#ffff00" stroke-width="0.9"/>
<circle cx="380.2" cy="417.9" r="2.3" fill="#fff" stroke="#ffff00" stroke-width="0.9"/>
<circle cx="380.2" cy="423" r="2.3" fill="#fff" stroke="#ffff00" stroke-width="0.9"/>
<circle cx="382.6" cy="429.3" r="2.3" fill="#fff" stroke="#ffff00" stroke-width="0.9"/>
<circle cx="380.1" cy="447.1" r="2.3" fill="#fff" stroke="#ffff00" stroke-width="0.9"/>
<circle cx="384" cy="452.7" r="2.3" fill="#fff" stroke="#ffff00" stroke-width="0.9"/>
<circle cx="381.5" cy="468.3" r="2.3" fill="#fff" stroke="#ffff00" stroke-width="0.9"/>
<circle cx="418" cy="401" r="2.3" fill="#fff" stroke="#009900" stroke-width="0.9"/>
<circle cx="414.5" cy="409.2" r="2.3" fill="#fff" stroke="#009900" stroke-width="0.9"/>
<circle cx="413.4" cy="415.1" r="2.3" fill="#fff" stroke="#009900" stroke-width="0.9"/>
<circle cx="413.3" cy="418.3" r="2.3" fill="#fff" stroke="#009900" stroke-width="0.9"/>
<circle cx="415" cy="433.1" r="2.3" fill="#fff" stroke="#009900" stroke-width="0.9"/>
<circle cx="415.2" cy="435.3" r="2.3" fill="#fff" stroke="#009900" stroke-width="0.9"/>
<circle cx="415.8" cy="444.1" r="2.3" fill="#fff" stroke="#009900" stroke-width="0.9"/>
<circle cx="417" cy="469.5" r="2.3" fill="#fff" stroke="#009900" stroke-width="0.9"/>
<circle cx="449.4" cy="406.9" r="2.3" fill="#fff" stroke="#0000ff" stroke-width="0.9"/>
<circle cx="453.2" cy="408.8" r="2.3" fill="#fff" stroke="#0000ff" stroke-width="0.9"/>
<circle cx="447.8" cy="413.7" r="2.3" fill="#fff" stroke="#0000ff" stroke-width="0.9"/>
<circle cx="452.4" cy="417.6" r="2.3" fill="#fff" stroke="#0000ff" stroke-width="0.9"/>
<circle cx="448.5" cy="420.6" r="2.3" fill="#fff" stroke="#0000ff" stroke-width="0.9"/>
<circle cx="450" cy="424.6" r="2.3" fill="#fff" stroke="#0000ff" stroke-width="0.9"/>
<circle cx="449.6" cy="444.1" r="2.3" fill="#fff" stroke="#0000ff" stroke-width="0.9"/>
<circle cx="449.6" cy="458.2" r="2.3" fill="#fff" stroke="#0000ff" stroke-width="0.9"/>
<circle cx="448.4" cy="461" r="2.3" fill="#fff" stroke="#0000ff" stroke-width="0.9"/>
<circle cx="482.1" cy="425.8" r="2.3" fill="#fff" stroke="#ff3fb0" stroke-width="0.9"/>
<circle cx="483.2" cy="433.8" r="2.3" fill="#fff" stroke="#ff3fb0" stroke-width="0.9"/>
<circle cx="485.3" cy="434.5" r="2.3" fill="#fff" stroke="#ff3fb0" stroke-width="0.9"/>
<circle cx="483.5" cy="441.3" r="2.3" fill="#fff" stroke="#ff3fb0" stroke-width="0.9"/>
<circle cx="489.3" cy="441.5" r="2.3" fill="#fff" stroke="#ff3fb0" stroke-width="0.9"/>
<path d="M295.60 351.4 V515.4 H500.60" fill="none" stroke="#3a3a3a" stroke-width="1.3"/>
<line x1="292.60" y1="515.40" x2="295.60" y2="515.40" stroke="#222" stroke-width="1.1"/>
<text x="290.60" y="520.30" font-size="14.2" text-anchor="end">0</text>
<line x1="293.80" y1="499.00" x2="295.60" y2="499.00" stroke="#222" stroke-width="1.1"/>
<line x1="292.60" y1="482.60" x2="295.60" y2="482.60" stroke="#222" stroke-width="1.1"/>
<text x="290.60" y="487.50" font-size="14.2" text-anchor="end">4</text>
<line x1="293.80" y1="466.20" x2="295.60" y2="466.20" stroke="#222" stroke-width="1.1"/>
<line x1="292.60" y1="449.80" x2="295.60" y2="449.80" stroke="#222" stroke-width="1.1"/>
<text x="290.60" y="454.70" font-size="14.2" text-anchor="end">8</text>
<line x1="293.80" y1="433.40" x2="295.60" y2="433.40" stroke="#222" stroke-width="1.1"/>
<line x1="292.60" y1="417.00" x2="295.60" y2="417.00" stroke="#222" stroke-width="1.1"/>
<text x="290.60" y="421.90" font-size="14.2" text-anchor="end">12</text>
<line x1="293.80" y1="400.60" x2="295.60" y2="400.60" stroke="#222" stroke-width="1.1"/>
<line x1="292.60" y1="384.20" x2="295.60" y2="384.20" stroke="#222" stroke-width="1.1"/>
<text x="290.60" y="389.10" font-size="14.2" text-anchor="end">16</text>
<line x1="293.80" y1="367.80" x2="295.60" y2="367.80" stroke="#222" stroke-width="1.1"/>
<line x1="292.60" y1="351.40" x2="295.60" y2="351.40" stroke="#222" stroke-width="1.1"/>
<text x="290.60" y="356.30" font-size="14.2" text-anchor="end">20</text>
<line x1="312.80" y1="515.4" x2="312.80" y2="518.2" stroke="#222" stroke-width="1"/>
<text x="312.80" y="529" font-size="9.3" text-anchor="middle">0 µM</text>
<line x1="347.10" y1="515.4" x2="347.10" y2="518.2" stroke="#222" stroke-width="1"/>
<text x="347.10" y="529" font-size="9.3" text-anchor="middle">0.3 µM</text>
<line x1="381.35" y1="515.4" x2="381.35" y2="518.2" stroke="#222" stroke-width="1"/>
<text x="381.35" y="529" font-size="9.3" text-anchor="middle">1 µM</text>
<line x1="415.55" y1="515.4" x2="415.55" y2="518.2" stroke="#222" stroke-width="1"/>
<text x="415.55" y="529" font-size="9.3" text-anchor="middle">3 µM</text>
<line x1="449.75" y1="515.4" x2="449.75" y2="518.2" stroke="#222" stroke-width="1"/>
<text x="449.75" y="529" font-size="9.3" text-anchor="middle">10 µM</text>
<line x1="483.75" y1="515.4" x2="483.75" y2="518.2" stroke="#222" stroke-width="1"/>
<text x="483.75" y="529" font-size="9.3" text-anchor="middle">100 µM</text>
<text x="398.00" y="546.5" font-size="13.8" text-anchor="middle">aldosterone</text>
<text transform="translate(269.80,433.5) rotate(-90)" font-size="13.8" text-anchor="middle">ΔT (°C)</text>
<path d="M312.70 365.50 V360.80 H484.40 V365.50" fill="none" stroke="#222" stroke-width="1"/>
<path d="M312.70 377.50 V372.50 H379.40 V377.50" fill="none" stroke="#222" stroke-width="1"/>
<path d="M313.50 388.20 V383.50 H349.30 V388.20" fill="none" stroke="#222" stroke-width="1"/>
<text x="399.40" y="357.80" font-size="6.8" text-anchor="middle" font-family="DejaVu Sans, sans-serif" class="st">★</text>
<text x="330.50" y="381.80" font-size="6.8" text-anchor="middle" font-family="DejaVu Sans, sans-serif" class="st">★</text>
<text x="344.20" y="369.80" font-size="9" text-anchor="middle">p=0.061</text>
</svg>
</body></html>
